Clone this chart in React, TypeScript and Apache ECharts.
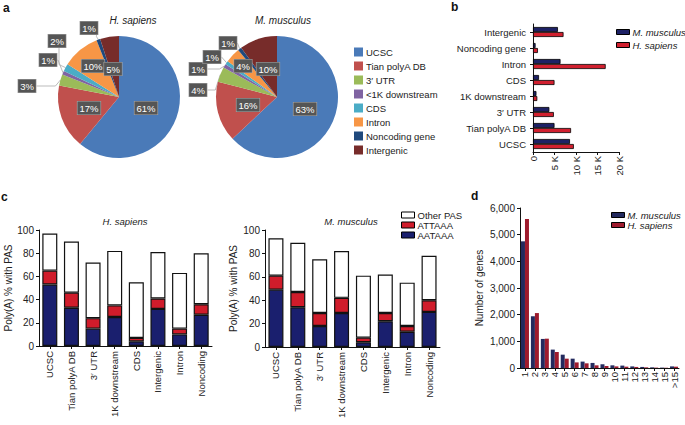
import React, { useEffect, useRef } from 'react';
import * as echarts from 'echarts';

// ---------- Panel a: pie data ----------
const pieCategories = ['UCSC', 'Tian polyA DB', '3′ UTR', '<1K downstream', 'CDS', 'Intron', 'Noncoding gene', 'Intergenic'];
const pieColors = ['#4a7ab8', '#c0504d', '#9bbb59', '#8064a2', '#4bacc6', '#f79646', '#1f497d', '#772c2a'];
const hsPie = [61, 17, 3, 1, 2, 10, 1, 5];
const mmPie = [63, 16, 4, 1, 1, 4, 1, 10];

// ---------- Panel b: site counts ----------
const siteCategories = ['UCSC', 'Tian polyA DB', '3′ UTR', '1K downstream', 'CDS', 'Intron', 'Noncoding gene', 'Intergenic'];
const mmSites = [8600, 5000, 3800, 800, 1400, 6400, 600, 5800];
const hsSites = [9500, 8850, 4850, 1000, 5000, 16900, 1150, 7100];

// ---------- Panel c: PAS percentages ----------
const pasCategories = ['UCSC', 'Tian polyA DB', '3′ UTR', '1K downstream', 'CDS', 'Intergenic', 'Intron', 'Noncoding'];
const hsAATAAA = [53, 33, 15, 25, 4, 32, 10, 27];
const hsATTAAA = [12, 13, 9, 10, 3, 9, 5, 9];
const hsOther = [32, 44, 48, 47, 48, 40, 48, 44];
const mmAATAAA = [49, 34, 18, 29, 4, 22, 13, 30];
const mmATTAAA = [12, 13, 11, 13, 4, 7, 5, 10];
const mmOther = [32, 42, 46, 40, 53, 33, 37, 38];

// ---------- Panel d: number of genes ----------
const geneCategories = ['1', '2', '3', '4', '5', '6', '7', '8', '9', '10', '11', '12', '13', '14', '15', '>15'];
const mmGenes = [4750, 1940, 1090, 690, 500, 350, 240, 190, 140, 100, 90, 60, 40, 25, 15, 60];
const hsGenes = [5590, 2060, 1100, 600, 350, 210, 175, 100, 75, 60, 50, 40, 25, 15, 10, 50];

// ---------- layout (label placement) ----------
const hsLabelPos: number[][] = [[146, 108], [89, 108], [27, 86], [48, 60], [57, 41], [93, 66], [89, 28], [113, 69]];
const hsLineSide = ['', '', 'right', 'right', 'bottom', '', 'bottomRight', ''];
const mmLabelPos: number[][] = [[305, 109], [248, 105], [198, 90], [198, 69], [212, 57], [243, 66], [228, 43], [268, 69]];
const mmLineSide = ['', '', 'right', 'right', 'right', '', 'right', ''];

const FONT = '"Liberation Sans", Arial, Helvetica, sans-serif';
const TXT = '#222';

function makePieLayout(values: number[], cx: number, cy: number, r: number, pos: number[][], sides: string[]) {
  const total = values.reduce((a, b) => a + b, 0);
  return (params: any) => {
    const i = params.dataIndex;
    const [x, y] = pos[i];
    const res: any = { x, y, align: 'center', verticalAlign: 'middle' };
    const side = sides[i];
    if (side) {
      let cum = 0;
      for (let k = 0; k < i; k++) cum += values[k];
      const mid = ((cum + values[i] / 2) / total) * Math.PI * 2;
      const ex = cx + r * Math.sin(mid);
      const ey = cy - r * Math.cos(mid);
      const w = params.labelRect.width / 2;
      const h = params.labelRect.height / 2;
      let a: number[];
      let e: number[];
      if (side === 'right') {
        a = [x + w, y];
        e = [Math.max(x + w, ex - 5), y];
      } else {
        const ax = side === 'bottomRight' ? x + w - 2 : x + 2;
        a = [ax, y + h];
        e = [ax, Math.max(y + h, ey - 3)];
      }
      res.labelLinePoints = [a, e, [ex, ey]];
    }
    return res;
  };
}

function pieSeries(name: string, values: number[], cx: number, cy: number, r: number, pos: number[][], sides: string[]) {
  return {
    type: 'pie',
    name,
    center: [cx, cy],
    radius: r,
    startAngle: 90,
    clockwise: true,
    avoidLabelOverlap: false,
    emphasis: { disabled: true },
    label: {
      show: true,
      formatter: '{c}%',
      color: '#fff',
      fontSize: 9.5,
      fontFamily: FONT,
      backgroundColor: '#555',
      borderColor: '#aaa',
      borderWidth: 0.6,
      padding: [2, 2, 1, 2],
    },
    labelLine: { show: true, lineStyle: { color: '#aaa', width: 0.8 } },
    labelLayout: makePieLayout(values, cx, cy, r, pos, sides),
    data: values.map((v, i) => ({
      name: pieCategories[i],
      value: v,
      itemStyle: { color: pieColors[i] },
      label: { position: sides[i] ? 'outside' : 'inside' },
      labelLine: { show: !!sides[i] },
    })),
  };
}

const axisLine = { show: true, lineStyle: { color: '#111', width: 1 } };
const axisTick = { show: true, length: 3, lineStyle: { color: '#111' } };

const option: any = {
  animation: false,
  backgroundColor: '#fff',
  textStyle: { fontFamily: FONT },
  graphic: [
    { type: 'text', left: 3, top: 2, style: { text: 'a', font: `bold 12px ${FONT}`, fill: '#111' } },
    { type: 'text', left: 451, top: 1, style: { text: 'b', font: `bold 12px ${FONT}`, fill: '#111' } },
    { type: 'text', left: 1, top: 191, style: { text: 'c', font: `bold 12px ${FONT}`, fill: '#111' } },
    { type: 'text', left: 471, top: 190, style: { text: 'd', font: `bold 12px ${FONT}`, fill: '#111' } },
    { type: 'text', x: 133, y: 20, style: { text: 'H. sapiens', font: `italic 10px ${FONT}`, fill: TXT, align: 'center', verticalAlign: 'middle' } },
    { type: 'text', x: 283, y: 20, style: { text: 'M. musculus', font: `italic 10px ${FONT}`, fill: TXT, align: 'center', verticalAlign: 'middle' } },
    { type: 'text', x: 125, y: 221, style: { text: 'H. sapiens', font: `italic 9.5px ${FONT}`, fill: TXT, align: 'center', verticalAlign: 'middle' } },
    { type: 'text', x: 351, y: 221, style: { text: 'M. musculus', font: `italic 9.5px ${FONT}`, fill: TXT, align: 'center', verticalAlign: 'middle' } },
  ],
  legend: [
    {
      data: pieCategories,
      orient: 'vertical',
      left: 349,
      top: 42,
      icon: 'rect',
      itemWidth: 9,
      itemHeight: 9,
      itemGap: 4,
      selectedMode: false,
      textStyle: { fontSize: 9.5, color: TXT, fontFamily: FONT, padding: [0, 0, 0, -2] },
    },
    {
      data: ['M. musculus', 'H. sapiens'],
      orient: 'vertical',
      left: 611,
      top: 22,
      icon: 'rect',
      itemWidth: 13,
      itemHeight: 5,
      itemGap: 3,
      selectedMode: false,
      itemStyle: { borderColor: '#000', borderWidth: 1 },
      textStyle: { fontSize: 9.5, fontStyle: 'italic', color: TXT, fontFamily: FONT, padding: [0, 0, 0, -2] },
    },
    {
      data: ['Other PAS', 'ATTAAA', 'AATAAA'],
      orient: 'vertical',
      left: 396,
      top: 205,
      icon: 'rect',
      itemWidth: 13,
      itemHeight: 6,
      itemGap: 0,
      selectedMode: false,
      itemStyle: { borderColor: '#000', borderWidth: 1 },
      textStyle: { fontSize: 9.5, color: TXT, fontFamily: FONT, padding: [0, 0, 0, -2] },
    },
    {
      data: [
        { name: 'M. musculus', itemStyle: { color: '#232a5e' } },
        { name: 'H. sapiens', itemStyle: { color: '#9e1b2d' } },
      ],
      orient: 'vertical',
      left: 606,
      top: 205,
      icon: 'rect',
      itemWidth: 13,
      itemHeight: 5,
      itemGap: 0,
      selectedMode: false,
      itemStyle: { borderColor: '#000', borderWidth: 1 },
      textStyle: { fontSize: 9.5, fontStyle: 'italic', color: TXT, fontFamily: FONT, padding: [0, 0, 0, -2] },
    },
  ],
  grid: [
    { left: 533, top: 24, width: 86, height: 128, containLabel: false, outerBoundsMode: 'none' },
    { left: 39, top: 230, width: 173, height: 116, containLabel: false, outerBoundsMode: 'none' },
    { left: 265, top: 230, width: 175, height: 117, containLabel: false, outerBoundsMode: 'none' },
    { left: 520, top: 208, width: 159, height: 160, containLabel: false, outerBoundsMode: 'none' },
  ],
  xAxis: [
    {
      gridIndex: 0,
      type: 'value',
      min: 0,
      max: 20000,
      interval: 5000,
      axisLine,
      axisTick,
      splitLine: { show: false },
      axisLabel: {
        rotate: 90,
        fontSize: 9.5,
        color: TXT,
        margin: 4,
        formatter: (v: number) => (v === 0 ? '0' : `${v / 1000} K`),
      },
    },
    {
      gridIndex: 1,
      type: 'category',
      data: pasCategories,
      axisLine,
      axisTick: { ...axisTick, alignWithLabel: true },
      axisLabel: { rotate: 90, fontSize: 9.5, color: TXT, margin: 5, interval: 0 },
    },
    {
      gridIndex: 2,
      type: 'category',
      data: pasCategories,
      axisLine,
      axisTick: { ...axisTick, alignWithLabel: true },
      axisLabel: { rotate: 90, fontSize: 9.5, color: TXT, margin: 5, interval: 0 },
    },
    {
      gridIndex: 3,
      type: 'category',
      data: geneCategories,
      axisLine,
      axisTick: { ...axisTick, alignWithLabel: true },
      axisLabel: { rotate: 90, fontSize: 9.5, color: TXT, margin: 4, interval: 0 },
    },
  ],
  yAxis: [
    {
      gridIndex: 0,
      type: 'category',
      data: siteCategories,
      axisLine,
      axisTick: { ...axisTick, alignWithLabel: true },
      axisLabel: { fontSize: 9.5, color: TXT, margin: 7, interval: 0 },
    },
    {
      gridIndex: 1,
      type: 'value',
      min: 0,
      max: 100,
      interval: 20,
      axisLine,
      axisTick,
      splitLine: { show: false },
      axisLabel: { fontSize: 10, color: TXT, margin: 5 },
      name: 'Poly(A) % with PAS',
      nameLocation: 'middle',
      nameRotate: 90,
      nameGap: 26,
      nameTextStyle: { fontSize: 10, color: TXT },
    },
    {
      gridIndex: 2,
      type: 'value',
      min: 0,
      max: 100,
      interval: 20,
      axisLine,
      axisTick,
      splitLine: { show: false },
      axisLabel: { fontSize: 10, color: TXT, margin: 5 },
      name: 'Poly(A) % with PAS',
      nameLocation: 'middle',
      nameRotate: 90,
      nameGap: 27,
      nameTextStyle: { fontSize: 10, color: TXT },
    },
    {
      gridIndex: 3,
      type: 'value',
      min: 0,
      max: 6000,
      interval: 1000,
      axisLine,
      axisTick,
      splitLine: { show: false },
      axisLabel: { fontSize: 10, color: TXT, margin: 5, formatter: (v: number) => v.toLocaleString('en-US') },
      name: 'Number of genes',
      nameLocation: 'middle',
      nameRotate: 90,
      nameGap: 36,
      nameTextStyle: { fontSize: 10, color: TXT },
    },
  ],
  series: [
    pieSeries('H. sapiens pie', hsPie, 119, 97, 61, hsLabelPos, hsLineSide),
    pieSeries('M. musculus pie', mmPie, 277, 97, 61, mmLabelPos, mmLineSide),
    // panel b
    {
      type: 'bar', name: 'M. musculus', xAxisIndex: 0, yAxisIndex: 0, data: mmSites,
      barWidth: 5, barGap: '0%',
      itemStyle: { color: '#1d2165', borderColor: '#000', borderWidth: 0.8 },
    },
    {
      type: 'bar', name: 'H. sapiens', xAxisIndex: 0, yAxisIndex: 0, data: hsSites,
      barWidth: 5, barGap: '0%',
      itemStyle: { color: '#d1202f', borderColor: '#000', borderWidth: 0.8 },
    },
    // panel c left
    {
      type: 'bar', name: 'AATAAA', xAxisIndex: 1, yAxisIndex: 1, stack: 'hs', data: hsAATAAA, barWidth: 15,
      itemStyle: { color: '#1a1f6e', borderColor: '#111', borderWidth: 1.2 },
    },
    {
      type: 'bar', name: 'ATTAAA', xAxisIndex: 1, yAxisIndex: 1, stack: 'hs', data: hsATTAAA, barWidth: 15,
      itemStyle: { color: '#d01c2b', borderColor: '#111', borderWidth: 1.2 },
    },
    {
      type: 'bar', name: 'Other PAS', xAxisIndex: 1, yAxisIndex: 1, stack: 'hs', data: hsOther, barWidth: 15,
      itemStyle: { color: '#ffffff', borderColor: '#111', borderWidth: 1.2 },
    },
    // panel c right
    {
      type: 'bar', name: 'AATAAA', xAxisIndex: 2, yAxisIndex: 2, stack: 'mm', data: mmAATAAA, barWidth: 15,
      itemStyle: { color: '#1a1f6e', borderColor: '#111', borderWidth: 1.2 },
    },
    {
      type: 'bar', name: 'ATTAAA', xAxisIndex: 2, yAxisIndex: 2, stack: 'mm', data: mmATTAAA, barWidth: 15,
      itemStyle: { color: '#d01c2b', borderColor: '#111', borderWidth: 1.2 },
    },
    {
      type: 'bar', name: 'Other PAS', xAxisIndex: 2, yAxisIndex: 2, stack: 'mm', data: mmOther, barWidth: 15,
      itemStyle: { color: '#ffffff', borderColor: '#111', borderWidth: 1.2 },
    },
    // panel d
    {
      type: 'bar', name: 'M. musculus', xAxisIndex: 3, yAxisIndex: 3, data: mmGenes,
      barWidth: 4, barGap: '0%',
      itemStyle: { color: '#232a5e' },
    },
    {
      type: 'bar', name: 'H. sapiens', xAxisIndex: 3, yAxisIndex: 3, data: hsGenes,
      barWidth: 4, barGap: '0%',
      itemStyle: { color: '#9e1b2d' },
    },
  ],
};

export default function App() {
  const ref = useRef<HTMLDivElement>(null);
  useEffect(() => {
    if (!ref.current) return;
    const chart = echarts.init(ref.current, undefined, { renderer: 'svg', width: 685, height: 425 });
    chart.setOption(option);
    return () => chart.dispose();
  }, []);
  return <div ref={ref} style={{ position: 'absolute', left: 0, top: 0, width: 685, height: 425 }} />;
}
